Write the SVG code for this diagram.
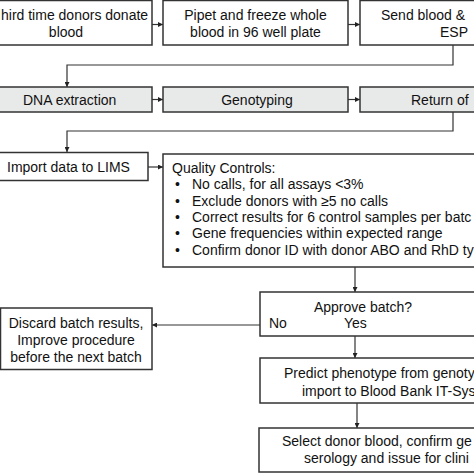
<svg xmlns="http://www.w3.org/2000/svg" width="474" height="474" viewBox="0 0 474 474">
<defs>
<marker id="ah" viewBox="0 0 10 10" refX="10" refY="5" markerWidth="5" markerHeight="5" orient="auto" markerUnits="userSpaceOnUse"><path d="M0,0 L10,5 L0,10 z" fill="#222"/></marker>
<style>
.b{fill:#fff;stroke:#333;stroke-width:1.5}
.g{fill:#e8e9e9;stroke:#333;stroke-width:1.5}
.c{fill:none;stroke:#333;stroke-width:1.2;marker-end:url(#ah)}
text{font-family:"Liberation Sans",Arial,sans-serif;font-size:14px;fill:#111}
.m{text-anchor:middle}
</style>
</defs>
<rect width="474" height="474" fill="#fff"/>
<g id="connectors">
<path class="c" d="M152,24.5 H163"/>
<path class="c" d="M348,24.5 H360"/>
<path class="c" d="M453,45 V65 H67 V87"/>
<path class="c" d="M152,99.5 H163"/>
<path class="c" d="M348,99.5 H360"/>
<path class="c" d="M453,112 V131 H67 V152"/>
<path class="c" d="M148,167 H163"/>
<path class="c" d="M355,267 V292"/>
<path class="c" d="M260,325 H152"/>
<path class="c" d="M355,336 V358"/>
<path class="c" d="M357,403 V428"/>
</g>
<g id="n1"><rect class="b" x="-20" y="0.5" width="172" height="44.5"/><text x="1" y="20">hird time donors donate</text><text class="m" x="66" y="37">blood</text></g>
<g id="n2"><rect class="b" x="163" y="0.5" width="185" height="44.5"/><text class="m" x="255.5" y="20">Pipet and freeze whole</text><text class="m" x="255.5" y="37">blood in 96 well plate</text></g>
<g id="n3"><rect class="b" x="360" y="0.5" width="130" height="44.5"/><text x="381" y="20">Send blood &amp;</text><text class="m" x="454" y="37">ESP</text></g>
<g id="n4"><rect class="g" x="-20" y="87" width="172" height="25"/><text x="23" y="104.5">DNA extraction</text></g>
<g id="n5"><rect class="g" x="163" y="87" width="185" height="25"/><text class="m" x="257" y="104.5">Genotyping</text></g>
<g id="n6"><rect class="g" x="360" y="87" width="130" height="25"/><text x="411" y="104.5">Return of</text></g>
<g id="n7"><rect class="b" x="-5" y="152.5" width="153" height="28"/><text x="7" y="171.5">Import data to LIMS</text></g>
<g id="n8"><rect class="b" x="163" y="154" width="330" height="113"/>
<text x="172" y="172.5">Quality Controls:</text>
<text x="175" y="189">•</text><text x="192" y="189">No calls, for all assays &lt;3%</text>
<text x="175" y="205.5">•</text><text x="192" y="205.5">Exclude donors with ≥5 no calls</text>
<text x="175" y="222">•</text><text x="192" y="222">Correct results for 6 control samples per batc</text>
<text x="175" y="238">•</text><text x="192" y="238">Gene frequencies within expected range</text>
<text x="175" y="254.5">•</text><text x="192" y="254.5">Confirm donor ID with donor ABO and RhD ty</text>
</g>
<g id="n9"><rect class="b" x="260" y="292" width="230" height="44"/><text class="m" x="363" y="311.5">Approve batch?</text><text x="269" y="328">No</text><text x="344" y="328">Yes</text></g>
<g id="n10"><rect class="b" x="0.5" y="308" width="151.5" height="61.5"/><text class="m" x="76" y="328">Discard batch results,</text><text class="m" x="76" y="345">Improve procedure</text><text class="m" x="76" y="362">before the next batch</text></g>
<g id="n11"><rect class="b" x="260" y="358" width="230" height="45"/><text x="284" y="378">Predict phenotype from genoty</text><text x="302" y="395.5">import to Blood Bank IT-Sys</text></g>
<g id="n12"><rect class="b" x="259" y="428" width="230" height="44"/><text x="282" y="446">Select donor blood, confirm ge</text><text x="304" y="463">serology and issue for clini</text></g>
</svg>
